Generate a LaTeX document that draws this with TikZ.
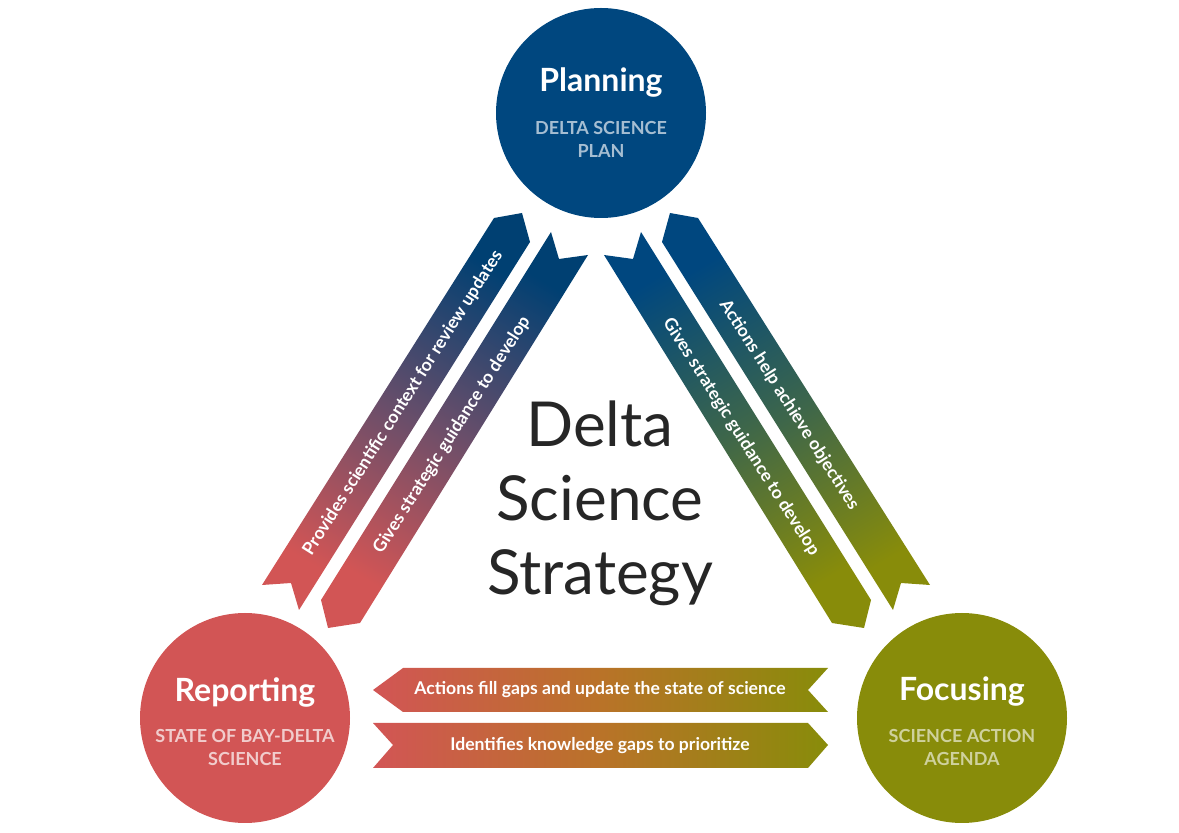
\documentclass[tikz,border=0pt]{standalone}
\usepackage{fontspec}
\setmainfont{Lato}
\usetikzlibrary{positioning}
\definecolor{planblue}{HTML}{00477F}
\definecolor{reportred}{HTML}{D25555}
\definecolor{focusolive}{HTML}{888C0A}
\tikzset{>=stealth}
\tikzset{
  hub/.style={circle, minimum size=105pt, inner sep=0pt},
  hubtitle/.style={text=white, font=\fontsize{16}{18}\selectfont\bfseries},
  hubsub/.style={align=center, font=\fontsize{9}{11.5}\selectfont\bfseries},
  bandtext/.style={text=white, font=\fontsize{8.8}{10}\selectfont\bfseries},
}
\begin{document}
\begin{tikzpicture}[x=0.5pt,y=-0.5pt]
\useasboundingbox (0,0) rectangle (1179,833);

% hubs
\node[hub, fill=planblue] (plan) at (601,113) {};
\node[hub, fill=reportred] (report) at (245,718) {};
\node[hub, fill=focusolive] (focus) at (962,718) {};

\node[hubtitle] (plantitle) at (601,83) {Planning};
\node[hubsub, text=planblue!35] (plansub) at (601,139) {DELTA SCIENCE\\PLAN};
\node[hubtitle] (reporttitle) at (245,692) {Reporting};
\node[hubsub, text=reportred!30] (reportsub) at (245,747) {STATE OF BAY-DELTA\\SCIENCE};
\node[hubtitle] (focustitle) at (962,692) {Focusing};
\node[hubsub, text=focusolive!40] (focussub) at (962,747) {SCIENCE ACTION\\AGENDA};

% diagonal bands, left
\shade[top color=planblue!90!black, bottom color=reportred, middle color=reportred!50!planblue, shading angle=-31]
  (262,585) -- (494,218) -- (522,213) -- (530,242) -- (299,610) -- (291,583) -- cycle;
\shade[top color=planblue!90!black, bottom color=reportred, middle color=reportred!50!planblue, shading angle=-31]
  (321,600) -- (551,232) -- (559,259) -- (588,255) -- (360,623) -- (328,628) -- cycle;
% diagonal bands, right
\shade[top color=planblue, bottom color=focusolive, middle color=focusolive!45!planblue, shading angle=31]
  (930,585) -- (698,218) -- (670,213) -- (662,242) -- (893,610) -- (901,583) -- cycle;
\shade[top color=planblue, bottom color=focusolive, middle color=focusolive!45!planblue, shading angle=31]
  (871,600) -- (641,232) -- (633,259) -- (604,255) -- (832,623) -- (864,628) -- cycle;

\node[bandtext, rotate=57.6] (context) at (403,403) {Provides scientific context for review updates};
\node[bandtext, rotate=57.6] (guideleft) at (452,435) {Gives strategic guidance to develop};
\node[bandtext, rotate=-57.6] (guideright) at (741,437) {Gives strategic guidance to develop};
\node[bandtext, rotate=-57.6] (objectives) at (789,405) {Actions help achieve objectives};

% bottom bands
\shade[left color=reportred, right color=focusolive, middle color=reportred!50!focusolive!85!orange]
  (373,690) -- (403,668) -- (828,668) -- (808,690) -- (828,712) -- (403,712) -- cycle;
\shade[left color=reportred, right color=focusolive, middle color=reportred!50!focusolive!85!orange]
  (373,723) -- (393,745) -- (373,768) -- (808,768) -- (828,745) -- (808,723) -- cycle;
\node[bandtext] (fill) at (600,690) {Actions fill gaps and update the state of science};
\node[bandtext] (gaps) at (600,746) {Identifies knowledge gaps to prioritize};

% centre title
\node[align=center, text=black!85, font=\fontsize{31}{37}\selectfont] (strategy) at (600,503) {Delta\\Science\\Strategy};
\end{tikzpicture}
\end{document}
